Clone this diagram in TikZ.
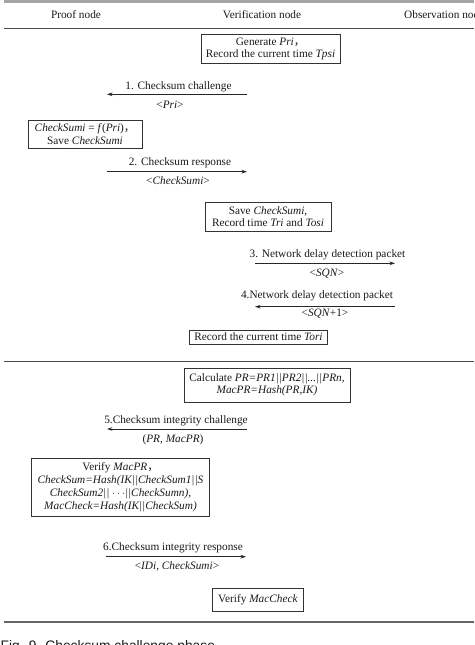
\documentclass[tikz,border=0pt]{standalone}
\usepackage{fontspec}
\setmainfont{Liberation Serif}
\newfontfamily\capfont{Liberation Sans}
\newfontfamily\cjk{Noto Sans CJK SC}
\usetikzlibrary{arrows.meta}
\begin{document}
\begin{tikzpicture}[x=1pt,y=-1pt,
  every node/.style={font=\fontsize{11.3}{12.5}\selectfont, text=black!90},
  stepbox/.style={draw=black!80, line width=0.8pt, inner sep=0pt, align=center},
  msg/.style={draw=black!85, line width=0.7pt, -{Stealth[length=5.5pt,width=3.6pt]}},
  lbl/.style={inner sep=0pt},
  rulel/.style={draw=black!70, line width=1pt}
]
\useasboundingbox (0,0) rectangle (474,645);

% rules
\coordinate (r0a) at (4,1.5); \coordinate (r0b) at (474,1.5);
\draw[line width=3pt, draw=black!35] (r0a) -- (r0b);
\coordinate (r1a) at (4,28); \coordinate (r1b) at (474,28);
\draw[rulel] (r1a) -- (r1b);
\coordinate (r2a) at (4,361); \coordinate (r2b) at (474,361);
\draw[rulel] (r2a) -- (r2b);
\coordinate (r3a) at (4,622); \coordinate (r3b) at (474,622);
\draw[rulel, draw=black!60, line width=1.2pt] (r3a) -- (r3b);

% headers
\node[lbl] (hp) at (76,14.3) {Proof node};
\node[lbl] (hv) at (262,14.3) {Verification node};
\node[lbl, anchor=west] (ho) at (404,14.3) {Observation node};

% boxes
\node[stepbox, minimum width=139pt, minimum height=29pt] (b1) at (270.5,48.8)
  {Generate \textit{Pri}\cjk{，}\\Record the current time \textit{Tpsi}};
\node[stepbox, minimum width=114pt, minimum height=28pt] (b2) at (85,134)
  {\textit{CheckSumi} = \textit{f}(\textit{Pri})\cjk{，}\\Save \textit{CheckSumi}};
\node[stepbox, minimum width=126pt, minimum height=29pt] (b3) at (268,216.5)
  {Save \textit{CheckSumi},\\Record time \textit{Tri} and \textit{Tosi}};
\node[stepbox, minimum width=138pt, minimum height=14pt] (b4) at (258.5,337)
  {Record the current time \textit{Tori}};
\node[stepbox, minimum width=166pt, minimum height=34pt] (b5) at (267,385)
  {Calculate \textit{PR=PR1||PR2||...||PRn,}\\\textit{MacPR=Hash(PR,IK)}};
\node[stepbox, minimum width=178pt, minimum height=58pt,
  font=\fontsize{11.3}{13}\selectfont] (b6) at (120.5,487.5)
  {Verify \textit{MacPR}\cjk{，}\\\textit{CheckSum=Hash(IK||CheckSum1||S}\\\textit{CheckSum2|| $\cdots$||CheckSumn),}\\\textit{MacCheck=Hash(IK||CheckSum)}};
\node[stepbox, minimum width=91pt, minimum height=23pt] (b7) at (258,599.5)
  {Verify \textit{MacCheck}};

% arrows
\coordinate (a1s) at (247,94.3); \coordinate (a1e) at (107,94.3);
\draw[msg] (a1s) -- (a1e);
\node[lbl] (l1) at (178.5,86.7) {1. Checksum challenge};
\node[lbl] (p1) at (170,104.3) {<\textit{Pri}>};

\coordinate (a2s) at (107,171.7); \coordinate (a2e) at (247,171.7);
\draw[msg] (a2s) -- (a2e);
\node[lbl] (l2) at (180,162.3) {2. Checksum response};
\node[lbl] (p2) at (178,181) {<\textit{CheckSumi}>};

\coordinate (a3s) at (255,263.3); \coordinate (a3e) at (395,263.3);
\draw[msg] (a3s) -- (a3e);
\node[lbl] (l3) at (327.5,255) {3. Network delay detection packet};
\node[lbl] (p3) at (327,273.3) {<\textit{SQN}>};

\coordinate (a4s) at (395,306.7); \coordinate (a4e) at (255,306.7);
\draw[msg] (a4s) -- (a4e);
\node[lbl] (l4) at (317,295.3) {4.Network delay detection packet};
\node[lbl] (p4) at (325,313.5) {<\textit{SQN}+1>};

\coordinate (a5s) at (247,429); \coordinate (a5e) at (107,429);
\draw[msg] (a5s) -- (a5e);
\node[lbl] (l5) at (176,421) {5.Checksum integrity challenge};
\node[lbl] (p5) at (173,440) {(\textit{PR, MacPR})};

\coordinate (a6s) at (106,556.7); \coordinate (a6e) at (246,556.7);
\draw[msg] (a6s) -- (a6e);
\node[lbl] (l6) at (173,547.3) {6.Checksum integrity response};
\node[lbl] (p6) at (177,566.7) {<\textit{IDi, CheckSumi}>};

% caption (cut off by the frame, as in the reference)
\node[anchor=north west, inner sep=0pt, font=\capfont\fontsize{13.8}{16}\selectfont] (cap) at (0.5,640.5) {Fig. 9. Checksum challenge phase};
\end{tikzpicture}
\end{document}
